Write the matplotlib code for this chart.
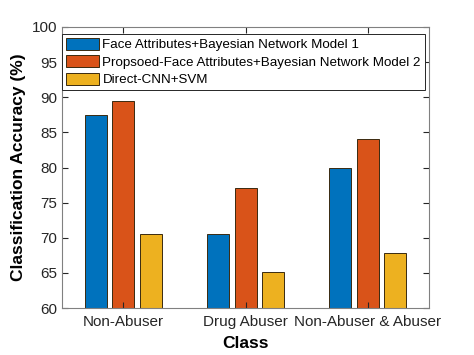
import matplotlib
matplotlib.use("Agg")
import matplotlib.pyplot as plt
import numpy as np

plt.rcParams['font.family'] = ['Liberation Sans', 'DejaVu Sans']

classes = ["Non-Abuser", "Drug Abuser", "Non-Abuser & Abuser"]
series_names = ["Face Attributes+Bayesian Network Model 1",
                "Propsoed-Face Attributes+Bayesian Network Model 2",
                "Direct-CNN+SVM"]
model1 = [87.5, 70.5, 80.0]
model2 = [89.4, 77.1, 84.0]
cnn_svm = [70.5, 65.2, 67.9]
colors = ["#0072BD", "#D95319", "#EDB120"]

fig = plt.figure(figsize=(4.74, 3.55), dpi=100)
ax = fig.add_axes([0.131, 0.132, 0.774, 0.792])

x = np.arange(1, len(classes) + 1)
width = 0.18
offsets = [-0.225, 0, 0.225]
for vals, off, col, name in zip([model1, model2, cnn_svm], offsets, colors, series_names):
    ax.bar(x + off, vals, width, color=col, edgecolor="#3a2a10", linewidth=0.7, label=name)

ax.set_xlim(0.5, 3.5)
ax.set_ylim(60, 100)
ax.set_xticks(x)
ax.set_xticklabels(classes)
ax.set_yticks(np.arange(60, 101, 5))
ax.tick_params(direction="in", top=True, right=True, labelsize=11, colors="#262626", length=4)
ax.tick_params(axis="x", pad=5)
for s in ax.spines.values():
    s.set_color("#808080")
    s.set_linewidth(0.8)

ax.set_xlabel("Class", fontsize=12.5, fontweight="bold", labelpad=5)
ax.set_ylabel("Classification Accuracy (%)", fontsize=12.5, fontweight="bold", labelpad=4)

leg = ax.legend(loc="upper left", bbox_to_anchor=(62 / 474, 1 - 34 / 355),
                bbox_transform=fig.transFigure, borderaxespad=0,
                fontsize=9.6, handlelength=2.5, handleheight=1.0,
                labelspacing=0.3, handletextpad=0.25,
                fancybox=False, edgecolor="#262626", framealpha=1, borderpad=0.28)
leg.get_frame().set_linewidth(0.7)

fig.savefig("out.png", dpi=100)
